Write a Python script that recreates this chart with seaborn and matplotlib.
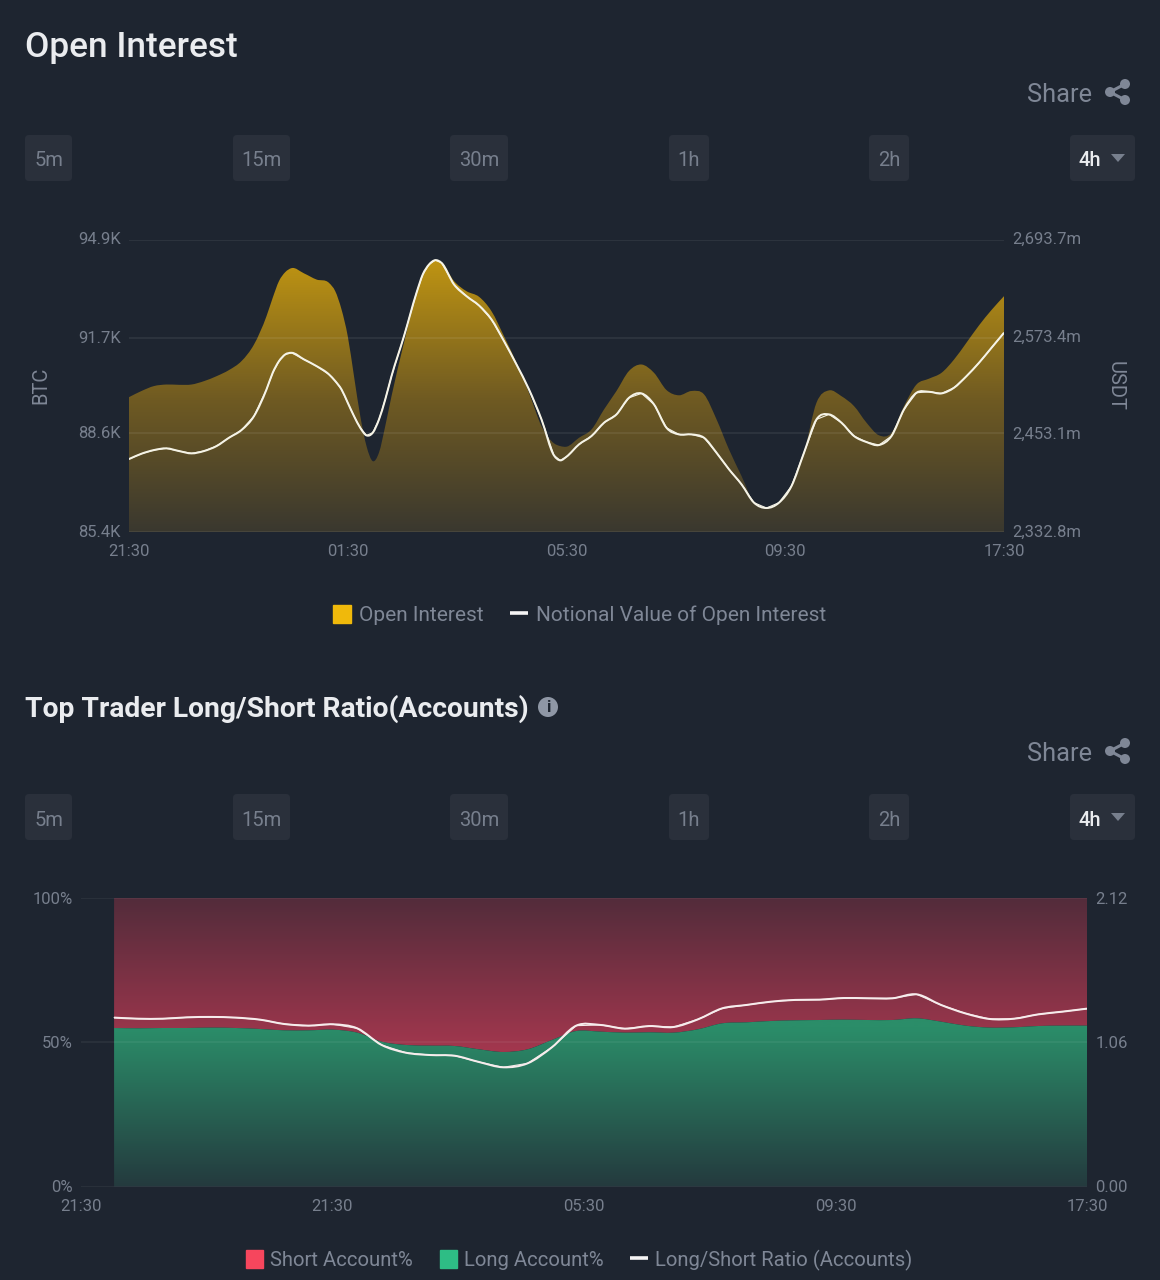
import numpy as np
import pandas as pd
import seaborn as sns
import matplotlib.pyplot as plt
from matplotlib.colors import LinearSegmentedColormap
from matplotlib.lines import Line2D
from matplotlib.patches import Circle, FancyBboxPatch, Patch, PathPatch, Polygon
from matplotlib.path import Path
from matplotlib.transforms import ScaledTranslation

# Open Interest chart, sample position along the axis (70 = right edge)
oi_t = [0, 1, 2, 3, 4, 5, 6, 7, 8, 9, 10, 11, 11.5, 12, 12.5, 13, 14, 15, 16, 16.5, 17, 17.5, 18, 18.5, 19,
        19.5, 20, 20.5, 21, 22, 23, 23.5, 24, 24.5, 25, 26, 27, 28, 29, 30, 31, 32, 33, 34, 34.5, 35, 36,
        37, 38, 39, 40, 41, 42, 43, 44, 45, 46, 47, 48, 49, 50, 51, 52, 53, 54, 55, 56, 57, 58, 59, 60,
        61, 62, 63, 64, 65, 66, 67, 68, 69, 70]
open_interest = [89.78, 89.98, 90.14, 90.19, 90.18, 90.19, 90.30, 90.46, 90.66, 90.95, 91.49, 92.41, 93.01,
                 93.55, 93.84, 93.97, 93.80, 93.60, 93.49, 93.22, 92.63, 91.76, 90.46, 89.17, 88.19,
                 87.70, 87.98, 88.84, 89.81, 91.55, 93.17, 93.76, 94.09, 94.23, 94.16, 93.55, 93.22, 93.04,
                 92.57, 91.76, 90.90, 89.92, 88.84, 88.28, 88.19, 88.17, 88.46,
                 88.73, 89.38, 89.98, 90.63, 90.84, 90.57, 90.01, 89.84, 89.98, 89.87, 89.06, 88.08, 87.22,
                 86.35, 86.19, 86.35, 86.95, 87.98, 89.60, 90.00, 89.81, 89.49, 88.95, 88.54, 88.62, 89.49,
                 90.19, 90.38, 90.57, 91.00, 91.55, 92.11, 92.61, 93.06]
notional = [2422.8, 2429.4, 2433.9, 2436.0, 2432.7, 2429.8, 2432.7, 2438.8, 2449.1, 2458.6, 2475.8, 2508.7,
            2529.3, 2543.6, 2551.9, 2553.9, 2545.7, 2537.5, 2527.2, 2519.0, 2508.7, 2492.3, 2475.8, 2461.4,
            2452.0, 2455.3, 2471.7, 2496.4, 2525.1, 2574.5, 2627.9, 2650.5, 2662.8, 2668.2, 2664.9, 2638.2,
            2623.8, 2612.3, 2595.0, 2568.3, 2539.5, 2508.7, 2471.7, 2427.3, 2421.2, 2425.7, 2440.9,
            2451.2, 2467.6, 2477.9, 2498.4, 2503.8, 2490.2, 2461.4, 2453.2, 2453.2, 2449.1, 2430.6, 2410.1,
            2391.6, 2369.0, 2362.4, 2369.0, 2389.5, 2430.6, 2471.7, 2477.9, 2467.6, 2451.2, 2443.8, 2440.1,
            2451.2, 2484.0, 2504.6, 2505.8, 2503.8, 2510.8, 2525.1, 2541.6, 2560.1, 2578.6]
oi_xticks = [0, 17.5, 35, 52.5, 70]
oi_xlabels = ['21:30', '01:30', '05:30', '09:30', '17:30']
btc_ticks = [85.4, 88.6, 91.7, 94.9]
btc_labels = ['85.4K', '88.6K', '91.7K', '94.9K']
usdt_ticks = [2332.8, 2453.1, 2573.4, 2693.7]
usdt_labels = ['2,332.8m', '2,453.1m', '2,573.4m', '2,693.7m']

# Long/short chart, one sample per position (40 = right edge)
long_pct = [54.94, 54.83, 54.94, 54.94, 55.06, 54.94, 54.59, 54.13, 54.13, 54.36, 53.32, 50.20, 49.05, 48.82,
            48.70, 47.55, 46.62, 47.55, 50.78, 53.90, 53.67, 53.32, 53.44, 53.32, 54.48, 56.56, 56.90, 57.37,
            57.60, 57.71, 57.83, 57.71, 57.71, 58.29, 57.14, 55.75, 55.06, 55.17, 55.63, 55.75, 55.75]
ls_ratio = [1.241, 1.233, 1.233, 1.243, 1.246, 1.241, 1.226, 1.194, 1.182, 1.192, 1.162, 1.040, 0.983, 0.966,
            0.961, 0.915, 0.876, 0.905, 1.023, 1.182, 1.187, 1.160, 1.179, 1.172, 1.228, 1.309, 1.334, 1.358,
            1.371, 1.373, 1.385, 1.383, 1.383, 1.412, 1.334, 1.272, 1.231, 1.233, 1.265, 1.285, 1.307]
ls_xticks = [-1.36, 8.98, 19.32, 29.66, 40]
ls_xlabels = ['21:30', '21:30', '05:30', '09:30', '17:30']
pct_ticks = [0, 50, 100]
pct_labels = ['0%', '50%', '100%']
ratio_ticks = [0, 1.06, 2.12]
ratio_labels = ['0.00', '1.06', '2.12']

periods = ['5m', '15m', '30m', '1h', '2h']
period_x = [(25, 72), (233, 290), (450, 508), (669, 709), (869, 909)]

BG = '#1e2530'
TICK = '#777f8d'
LABEL = '#7f8796'
BTN = '#2a303b'

sns.set_theme(style='dark', rc={'figure.facecolor': BG, 'axes.facecolor': BG, 'savefig.facecolor': BG})
plt.rcParams['font.family'] = ['Roboto', 'DejaVu Sans']

W, H = 1160, 1280
fig = plt.figure(figsize=(W / 100, H / 100), dpi=100)


def box(left, right, top, bottom):
    return [left / W, 1 - bottom / H, (right - left) / W, (bottom - top) / H]


def curve(t, y):
    # bezier segments through the samples, the chart draws its lines with tension
    t, y = np.asarray(t, float), np.asarray(y, float)
    m = np.gradient(y, t)
    verts = [(t[0], y[0])]
    codes = [Path.MOVETO]
    for i in range(len(t) - 1):
        d = (t[i + 1] - t[i]) / 3
        verts += [(t[i] + d, y[i] + m[i] * d), (t[i + 1] - d, y[i + 1] - m[i + 1] * d), (t[i + 1], y[i + 1])]
        codes += [Path.CURVE4] * 3
    return verts, codes


def area(t, y, base):
    verts, codes = curve(t, y)
    verts = verts + [(t[-1], base), (t[0], base), (t[0], base)]
    codes = codes + [Path.LINETO, Path.LINETO, Path.CLOSEPOLY]
    return Path(verts, codes)


def gradient(ax, path, stops):
    # vertical gradient clipped to the filled area
    cmap = LinearSegmentedColormap.from_list('g', stops)
    img = ax.imshow(np.linspace(1, 0, 512).reshape(-1, 1), cmap=cmap, vmin=0, vmax=1, aspect='auto',
                    extent=[0, 1, 0, 1], transform=ax.transAxes, zorder=1)
    img.set_clip_path(path, transform=ax.transData)


def smooth_line(ax, df, xcol, ycol, color):
    sns.lineplot(data=df, x=xcol, y=ycol, ax=ax, color=color, lw=0.8, errorbar=None, legend=False)
    verts, codes = curve(df[xcol], df[ycol])
    ax.add_patch(PathPatch(Path(verts, codes), fc='none', ec=color, lw=1.45, capstyle='butt', zorder=3))


def style_axis(ax):
    ax.set_facecolor('none')
    for s in ax.spines.values():
        s.set_visible(False)
    ax.tick_params(axis='both', length=0, labelsize=12, labelcolor=TICK)


def nudge_up(ax, px):
    for lab in ax.get_yticklabels():
        lab.set_transform(lab.get_transform() + ScaledTranslation(0, px / 100, fig.dpi_scale_trans))


# ---- Open Interest
ax1 = fig.add_axes(box(129, 1004, 239.5, 532))
style_axis(ax1)
gradient(ax1, area(oi_t, open_interest, 85.4), [(0, '#3a382f'), (0.45, '#6f5a22'), (1, '#cb9d10')])
ax1.set_xlim(0, 70)
ax1.set_ylim(85.4, 94.9)
ax1.set_yticks(btc_ticks, btc_labels)
ax1.set_xticks(oi_xticks, oi_xlabels)
ax1.tick_params(axis='y', pad=6)
ax1.tick_params(axis='x', pad=9)
nudge_up(ax1, 1.5)
ax1.grid(axis='y', color='#ffffff', alpha=0.08, lw=1.2, zorder=3)
ax1.set_axisbelow(False)
ax1.set_ylabel('BTC', color=LABEL, fontsize=14.5)
ax1.yaxis.set_label_coords(-0.090, 0.50)

ax1r = ax1.twinx()
style_axis(ax1r)
oi_df = pd.DataFrame({'t': oi_t, 'notional': notional})
smooth_line(ax1r, oi_df, 't', 'notional', '#f5f3e6')
ax1r.set_ylim(2332.8, 2693.7)
ax1r.set_yticks(usdt_ticks, usdt_labels)
ax1r.tick_params(axis='y', pad=6)
nudge_up(ax1r, 1.5)
ax1r.set_xlabel('')
ax1r.set_ylabel('USDT', color=LABEL, fontsize=14.5, rotation=270)
ax1r.yaxis.set_label_coords(1.138, 0.50)

fig.legend(handles=[Patch(color='#f0b90b', label='Open Interest'),
                    Line2D([0], [0], color='#f5f5f5', lw=2.6, solid_capstyle='butt',
                           label='Notional Value of Open Interest')],
           loc='center', bbox_to_anchor=(579.5 / W, 1 - 615 / H), ncol=2, frameon=False, fontsize=15,
           labelcolor=LABEL, handlelength=0.87, handleheight=1.0, handletextpad=0.35, columnspacing=1.3)

# ---- Long/Short
ls_t = np.arange(len(long_pct))
ax2 = fig.add_axes(box(81, 1087, 898, 1186.5))
style_axis(ax2)
gradient(ax2, area(ls_t, long_pct, 100), [(0, '#a3374e'), (0.47, '#a3374e'), (1, '#532c3b')])
gradient(ax2, area(ls_t, long_pct, 0), [(0, '#243a3e'), (0.55, '#2b8d69'), (1, '#2b8d69')])
ax2.set_xlim(-1.36, 40)
ax2.set_ylim(0, 100)
ax2.set_yticks(pct_ticks, pct_labels)
ax2.set_xticks(ls_xticks, ls_xlabels)
ax2.tick_params(axis='y', pad=6)
ax2.tick_params(axis='x', pad=9)
ax2.grid(axis='y', color='#ffffff', alpha=0.06, lw=1.2, zorder=3)
ax2.set_axisbelow(False)

ax2r = ax2.twinx()
style_axis(ax2r)
ls_df = pd.DataFrame({'t': ls_t, 'ratio': ls_ratio})
smooth_line(ax2r, ls_df, 't', 'ratio', '#f6ecec')
ax2r.set_ylim(0, 2.12)
ax2r.set_yticks(ratio_ticks, ratio_labels)
ax2r.tick_params(axis='y', pad=6)
ax2r.set_xlabel('')
ax2r.set_ylabel('')

fig.legend(handles=[Patch(color='#f6465d', label='Short Account%'),
                    Patch(color='#2ebd85', label='Long Account%'),
                    Line2D([0], [0], color='#f5f5f5', lw=2.6, solid_capstyle='butt',
                           label='Long/Short Ratio (Accounts)')],
           loc='center', bbox_to_anchor=(579 / W, 1 - 1260 / H), ncol=3, frameon=False, fontsize=14.6,
           labelcolor=LABEL, handlelength=0.87, handleheight=1.0, handletextpad=0.35, columnspacing=1.3)

# ---- page furniture in pixel coordinates
page = fig.add_axes([0, 0, 1, 1])
page.set_xlim(0, W)
page.set_ylim(H, 0)
page.axis('off')
page.patch.set_visible(False)


def button_row(top):
    for name, (x0, x1) in zip(periods, period_x):
        page.add_patch(FancyBboxPatch((x0 + 4, top + 4), x1 - x0 - 8, 38, boxstyle='round,pad=4', fc=BTN, ec='none'))
        page.text((x0 + x1) / 2, top + 26, name, color=TICK, fontsize=14.5, ha='center', va='center')
    page.add_patch(FancyBboxPatch((1074, top + 4), 57, 38, boxstyle='round,pad=4', fc=BTN, ec='none'))
    page.text(1090, top + 26, '4h', color='#eaecef', fontsize=14.5, weight='medium', ha='center', va='center')
    page.add_patch(Polygon([(1111, top + 19), (1125, top + 19), (1118, top + 27)], fc=TICK, ec='none'))


def share(y):
    page.text(1059.5, y + 2, 'Share', color=LABEL, fontsize=18.3, ha='center', va='center')
    pts = [(1110, y - 1), (1125, y - 9), (1125, y + 7)]
    page.plot([pts[1][0], pts[0][0], pts[2][0]], [pts[1][1], pts[0][1], pts[2][1]], color=LABEL, lw=2.2)
    for p in pts:
        page.add_patch(Circle(p, 5, fc=LABEL, ec='none'))


page.text(25, 48, 'Open Interest', color='#eaecef', fontsize=25.4, weight='medium', ha='left', va='center')
share(93)
button_row(135)

page.text(25, 709, 'Top Trader Long/Short Ratio(Accounts)', color='#eaecef', fontsize=20.3, weight='bold',
          ha='left', va='center')
page.add_patch(Circle((548, 707), 10, fc='#8f97a5', ec='none'))
page.text(548, 707, 'i', color=BG, fontsize=12, weight='bold', ha='center', va='center')
share(752)
button_row(794)

fig.savefig('out.png', dpi=100)
